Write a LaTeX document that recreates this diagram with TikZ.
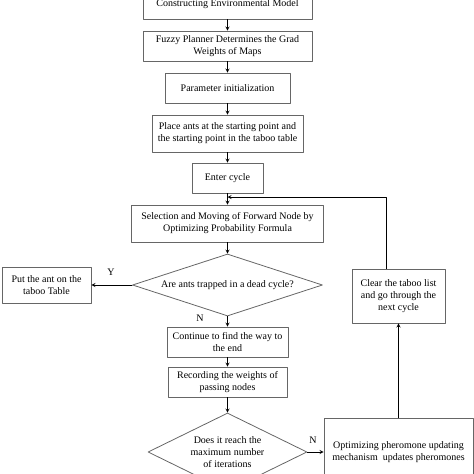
\documentclass[tikz,border=0pt]{standalone}
\usepackage{fontspec}
\setmainfont{Liberation Serif}
\usetikzlibrary{shapes.geometric}
\tikzset{
  hop/.style={draw=black!60, line width=0.8pt, align=center, inner sep=2pt, minimum height=30pt},
  thoi/.style={diamond, draw=black!60, line width=0.8pt, align=center, inner sep=0pt}
}
\begin{document}
\begin{tikzpicture}[>=stealth, x=1pt, y=-1pt, line join=round, line cap=round]
            \def\cx{227.5} \def\rx{398.5} % Cột giữa, cột phải
            \useasboundingbox (0,0) rectangle (474,474);
            \clip (0,0) rectangle (474,474);
            \node[hop, minimum width=169] (env) at (\cx,4) {Constructing Environmental Model};
            \node[hop, minimum width=169] (fuzzy) at (\cx,46) {Fuzzy Planner Determines the Grad\\Weights of Maps};
            \node[hop, minimum width=125] (param) at (\cx,88) {Parameter initialization};
            \node[hop, minimum width=151, minimum height=37] (place) at (\cx,133.5) {Place ants at the starting point and\\the starting point in the taboo table};
            \node[hop, minimum width=71] (enter) at (\cx,178) {Enter cycle};
            \node[hop, minimum width=192, minimum height=37] (select) at (\cx,223.5) {Selection and Moving of Forward Node by\\Optimizing Probability Formula};
            \node[thoi, aspect=3, minimum width=190, minimum height=62] (dead) at (\cx,285) {Are ants trapped in a dead cycle?};
            \node[hop, minimum width=89, minimum height=36] (put) at (46.5,285) {Put the ant on the\\taboo Table};
            \node[hop, minimum width=93, minimum height=54] (clear) at (\rx,296) {Clear the taboo list\\and go through the\\next cycle};
            \node[hop, minimum width=121] (cont) at (\cx,342) {Continue to find the way to\\the end};
            \node[hop, minimum width=119] (rec) at (\cx,382) {Recording the weights of\\passing nodes};
            \node[thoi, aspect=2, minimum width=159, minimum height=78] (maxit) at (\cx,452) {Does it reach the\\maximum number\\of iterations};
            \node[hop, minimum width=149, minimum height=68] (opt) at (\rx,452) {Optimizing pheromone updating\\mechanism~ updates pheromones};
            \node (y) at (111,272) {Y};
            \node (n1) at (200,318) {N};
            \node (n2) at (313,440) {N};
            \coordinate (loop) at (\cx,197);
            \foreach \a/\b in {env/fuzzy,fuzzy/param,param/place,place/enter,enter/select,select/dead,dead/cont,cont/rec,rec/maxit}
                \draw[->, line width=0.8pt] (\a) -- (\b);
            \draw[->, line width=0.8pt] (dead) -- (put);
            \draw[->, line width=0.8pt] (maxit) -- (opt);
            \draw[->, line width=0.8pt] (opt) -- (clear);
            \draw[->, line width=0.8pt] ([xshift=-12.5pt]clear.north) |- (loop);
        \end{tikzpicture}
\end{document}
